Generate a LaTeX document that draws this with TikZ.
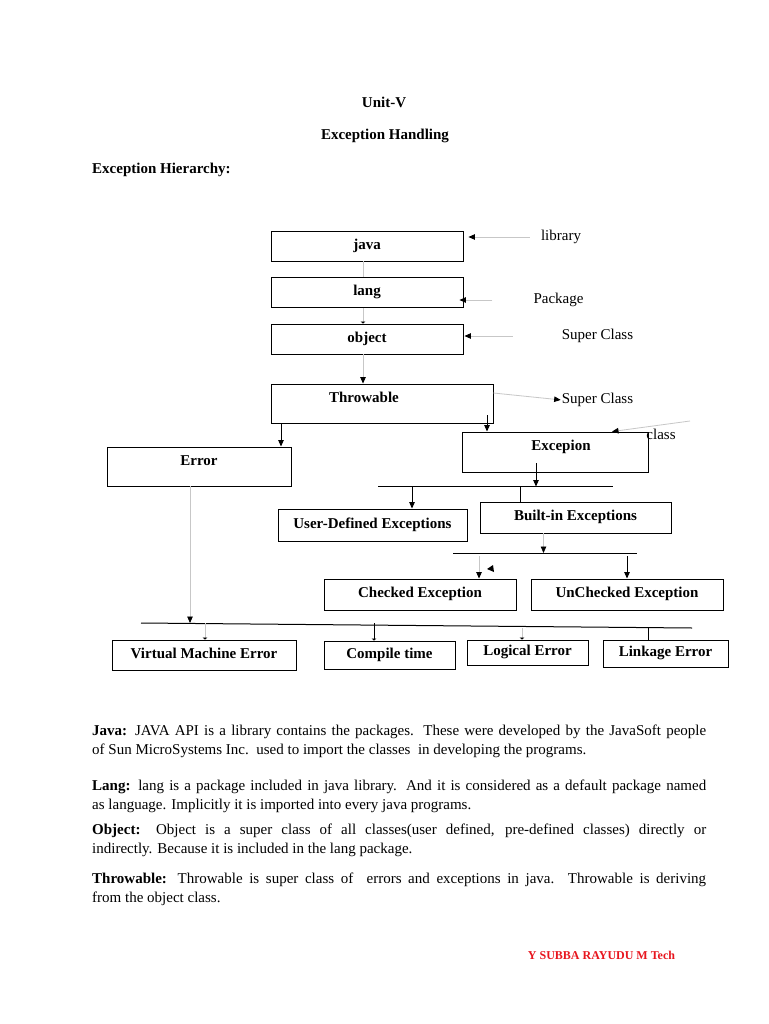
\documentclass[tikz,border=0pt]{standalone}
\usepackage{fontspec}
\setmainfont{Liberation Serif}
\usetikzlibrary{arrows.meta,positioning}
\definecolor{signred}{RGB}{232,22,30}

\begin{document}
\begin{tikzpicture}[x=1pt,y=-1pt,>={Triangle[length=6.5pt,width=5.5pt]},on grid,
	box/.style={draw,line width=0.9pt,inner sep=0pt,font=\fontsize{15}{18}\selectfont\bfseries,minimum width=192pt,minimum height=30pt,text height=10pt,text depth=4pt},
	tallbox/.style={box,minimum height=39pt,text depth=13pt},
	head/.style={inner sep=0pt,font=\fontsize{15}{18}\selectfont\bfseries},
	note/.style={inner sep=0pt,font=\fontsize{15}{18}\selectfont},
	para/.style={inner sep=0pt,anchor=base west,text width=614pt,align=justify,font=\fontsize{15}{19}\selectfont}]
			\fill[white] (0,0) rectangle (768,1024);
			\useasboundingbox (0,0) rectangle (768,1024);

			\node[head]           (unit)  at (384,102)  {Unit-V};
			\node[head]           (topic) at (385,136)  {Exception Handling};
			\node[head,anchor=west] (hier) at (92,170)  {Exception Hierarchy:};

			  \node[box]          (java)                         at (367,246)   {java};
			  \node[box]          (lang)      [below=46.5pt of java]              {lang};
			  \node[box]          (object)    [below=46.5pt of lang]              {object};
			  \node[tallbox,minimum width=222pt] (throwable)    at (382,403.5) {Throwable\hspace*{36pt}};
			  \node[tallbox,minimum width=184pt] (error)        at (199,466.5) {Error};
			  \node[tallbox,minimum width=186pt,minimum height=40pt] (excepion) at (555,452) {\hspace*{12pt}Excepion};
			  \node[box,minimum width=189pt,minimum height=32pt] (userdef)  at (372.5,525) {User-Defined Exceptions};
			  \node[box,minimum width=191pt,minimum height=31pt] (builtin)  at (575.5,517.5) {Built-in Exceptions};
			  \node[box,minimum height=31pt] (checked)             at (420,594.5) {Checked Exception};
			  \node[box,minimum height=31pt] (unchecked) [right=207pt of checked]  {UnChecked Exception};
			  \node[box,minimum width=184pt]  (vmerror)            at (204,655)   {Virtual Machine Error};
			  \node[box,minimum width=131pt,minimum height=28pt] (compile)  at (389.5,655) {Compile time};
			  \node[box,minimum width=121pt,minimum height=25pt] (logical)  at (527.5,652.5) {Logical Error};
			  \node[box,minimum width=125pt,minimum height=27pt] (linkage)  at (665.5,653.5) {Linkage Error};

			  \node[note]         (lib)   at (561,237)   {library};
			  \node[note]         (pkg)   at (558.5,300) {Package};
			  \node[note]         (sc1)   at (597.5,336) {Super Class};
			  \node[note]         (sc2)   at (597.5,400) {Super Class};
			  \node[note]         (cls)   at (661,434)   {class};

			  \coordinate (clstail) at (690,421);
			  \coordinate (bar1w) at (378,486.5);
			  \coordinate (bar1e) at (613,486.5);
			  \coordinate (bar2w) at (453,553);
			  \coordinate (bar2e) at (637,553);
			  \coordinate (bar3w) at (141,623);
			  \coordinate (bar3e) at (692,628);

			\tikzset{link/.style={line width=1pt}}
			\tikzset{faint/.style={draw=black!22,line width=0.8pt}}
			\tikzset{faintarr/.style={faint,-{Triangle[length=6.5pt,width=5.5pt,color=black]}}}
			\tikzset{stub/.style={-{Triangle[length=2pt,width=4.5pt,color=black]}}}

			% java -> lang -> object -> Throwable
			\draw[faint] ([xshift=-4pt]java.south) -- ([xshift=-4pt]lang.north);
			\draw[faint,stub] ([xshift=-4pt]lang.south) -- ([xshift=-4pt]object.north);
			\draw[faintarr] ([xshift=-4pt]object.south) -- ([xshift=-4pt]object.south |- throwable.north);

			% side notes
			\draw[faintarr,shorten <=11pt,shorten >=5pt] (lib.west) -- (lib.west -| java.east);
			\draw[faintarr,shorten <=41pt,shorten >=-4pt] (pkg.west) -- (pkg.west -| lang.east);
			\draw[faintarr,shorten <=49pt,shorten >=1pt] (sc1.west) -- (sc1.west -| object.east);
			\draw[faintarr,shorten >=1pt] ([yshift=10.5pt]throwable.east) -- (sc2.west);
			\draw[faintarr] (clstail) -- ([xshift=57pt]excepion.north);

			% Throwable -> Error, Excepion
			\draw[link,->] ([xshift=-101pt]throwable.south) -- ([xshift=82pt]error.north);
			\draw[link,->] ([xshift=105pt,yshift=8pt]throwable.south) -- ([xshift=-68pt]excepion.north);

			% Excepion branch
			\draw[link] (bar1w) -- (bar1e);
			\draw[link,->] ([xshift=-19pt,yshift=9pt]excepion.south) -- ([xshift=-19pt]excepion.south |- bar1w);
			\draw[link,->] ([xshift=39.5pt]userdef.north |- bar1w) -- ([xshift=39.5pt]userdef.north);
			\draw[link] ([xshift=-55pt]builtin.north |- bar1w) -- ([xshift=-55pt]builtin.north);
			\draw[faintarr] ([xshift=-32pt]builtin.south) -- ([xshift=-32pt]builtin.south |- bar2w);
			\draw[link] (bar2w) -- (bar2e);
			\draw[faintarr,shorten <=3pt] ([xshift=59pt]checked.north |- bar2w) -- ([xshift=59pt]checked.north);
			\draw[link,->,shorten <=3pt] (unchecked.north |- bar2w) -- (unchecked.north);
			\fill (487,569) -- (493,565) -- (494,572) -- cycle;

			% Error branch
			\draw[faintarr] ([xshift=-9pt]error.south) -- ([xshift=-9pt]error.south |- bar3w);
			\draw[link] (bar3w) -- (bar3e);
			\draw[faint,stub] ([xshift=1pt]vmerror.north |- bar3w) -- ([xshift=1pt]vmerror.north);
			\draw[link,stub] ([xshift=-15.5pt]compile.north |- bar3w) -- ([xshift=-15.5pt]compile.north);
			\draw[faint,stub] ([xshift=-5.5pt]logical.north |- bar3e) -- ([xshift=-5.5pt]logical.north);
			\draw[link] ([xshift=-17.5pt]linkage.north |- bar3e) -- ([xshift=-17.5pt]linkage.north);

			% notes under the picture
			\node[para] (pjava) at (92,735) {\textbf{Java:} JAVA API is a library contains the packages. These were developed by the JavaSoft people\linebreak of Sun MicroSystems Inc.\ \ used to import the classes\ \ in developing the programs.};
			\node[para] (plang) at (92,790) {\textbf{Lang:} lang is a package included in java library. And it is considered as a default package named\linebreak as language. Implicitly it is imported into every java programs.};
			\node[para] (pobj)  at (92,834) {\textbf{Object:} Object is a super class of all classes(user defined, pre-defined classes) directly or\linebreak indirectly. Because it is included in the lang package.};
			\node[para] (pthr)  at (92,883) {\textbf{Throwable:} Throwable is super class of\ \ errors and exceptions in java. Throwable is deriving\linebreak from the object class.};

			\node[inner sep=0pt,text=signred,font=\fontsize{12}{14}\selectfont\bfseries] (sign) at (601.5,955) {Y SUBBA RAYUDU M Tech};
		\end{tikzpicture}
\end{document}
